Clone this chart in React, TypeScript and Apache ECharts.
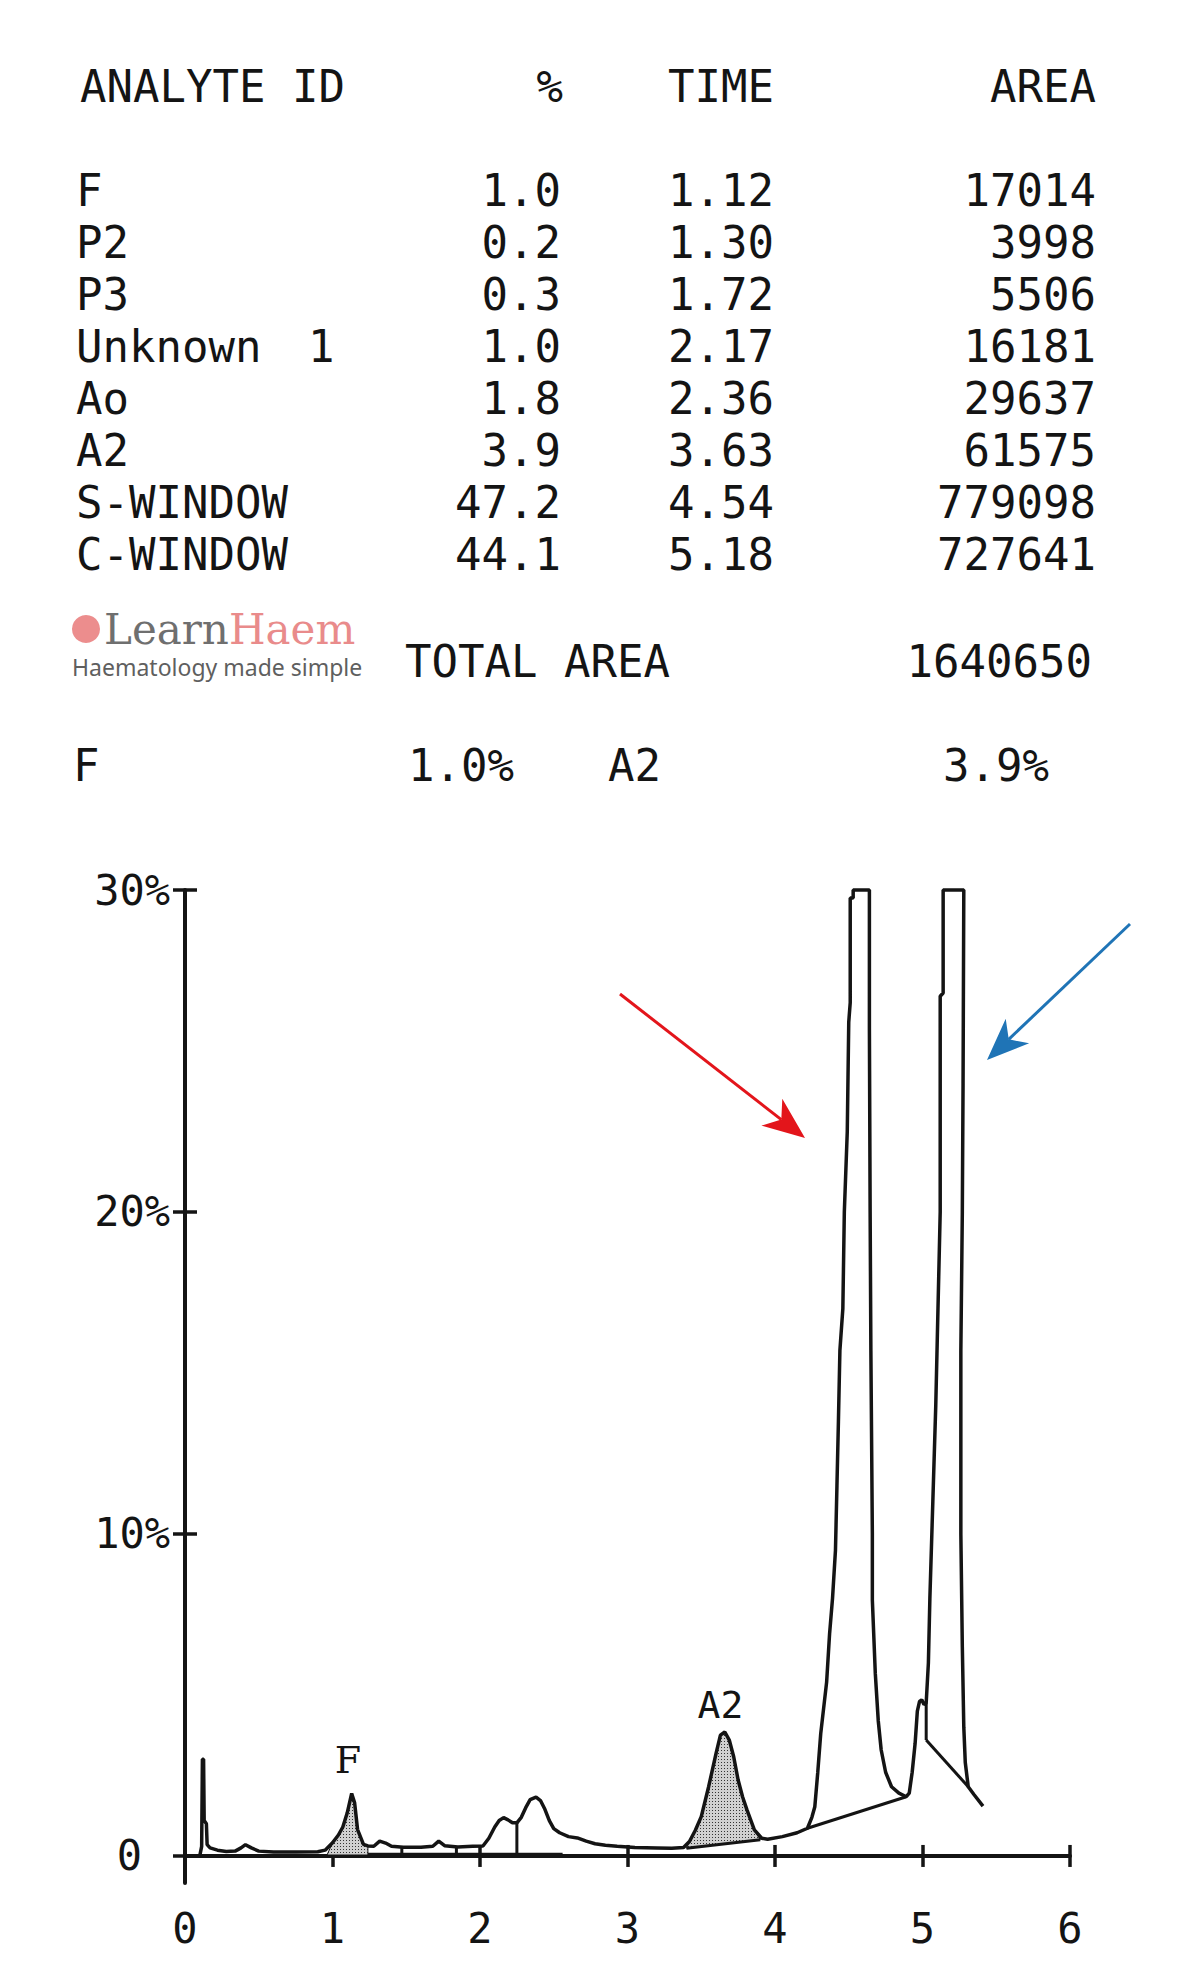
import React, { useEffect, useRef } from 'react';
import * as echarts from 'echarts';

// ---------- table data ----------
const analyteIds = ['F', 'P2', 'P3', 'Unknown', 'Ao', 'A2', 'S-WINDOW', 'C-WINDOW'];
const analyteSuffix = ['', '', '', '1', '', '', '', ''];
const analytePercent = ['1.0', '0.2', '0.3', '1.0', '1.8', '3.9', '47.2', '44.1'];
const analyteTime = ['1.12', '1.30', '1.72', '2.17', '2.36', '3.63', '4.54', '5.18'];
const analyteArea = ['17014', '3998', '5506', '16181', '29637', '61575', '779098', '727641'];
const totalAreaLabel = 'TOTAL AREA';
const totalAreaValue = '1640650';
const summaryItems = ['F', '1.0%', 'A2', '3.9%'];

// ---------- chromatogram data (time in min, % of scale) ----------
const traceTime = [
  0.00, 0.10, 0.113, 0.118, 0.126, 0.130, 0.145, 0.150, 0.17, 0.22, 0.28, 0.34, 0.38, 0.41, 0.45, 0.50, 0.60, 0.75, 0.90, 0.95,
  1.00, 1.04, 1.07, 1.10, 1.13, 1.15, 1.17, 1.21, 1.24, 1.28, 1.32, 1.36, 1.40, 1.48, 1.60, 1.68, 1.72, 1.76, 1.85, 1.95,
  2.02, 2.06, 2.10, 2.13, 2.16, 2.19, 2.22, 2.25, 2.28, 2.31, 2.34, 2.38, 2.41, 2.44, 2.47, 2.50, 2.54, 2.60, 2.66, 2.72, 2.78, 2.85, 2.93, 3.05, 3.20, 3.30, 3.38,
  3.42, 3.46, 3.50, 3.55, 3.60, 3.63, 3.66, 3.69, 3.72, 3.75, 3.78, 3.81, 3.86, 3.91, 3.95,
  4.05, 4.15, 4.22, 4.25, 4.27, 4.29, 4.31, 4.33, 4.35, 4.37, 4.39, 4.41, 4.42, 4.43, 4.44, 4.46, 4.47, 4.49, 4.50, 4.51, 4.51, 4.53, 4.53,
  4.64, 4.64, 4.645, 4.65, 4.66, 4.66, 4.68, 4.70, 4.72, 4.75, 4.79, 4.84, 4.89,
  4.91, 4.93, 4.95, 4.965, 4.98, 4.995, 5.01, 5.025, 5.04, 5.05, 5.07, 5.09, 5.10, 5.11, 5.12, 5.12, 5.14, 5.14,
  5.28, 5.275, 5.27, 5.26, 5.26, 5.27, 5.28, 5.29, 5.31, 5.35, 5.41,
];
const tracePct = [
  0.00, 0.00, 0.3, 3.0, 3.0, 1.1, 1.0, 0.35, 0.25, 0.18, 0.14, 0.15, 0.25, 0.35, 0.25, 0.15, 0.12, 0.12, 0.13, 0.18,
  0.41, 0.65, 0.9, 1.34, 1.94, 1.65, 0.82, 0.36, 0.31, 0.3, 0.46, 0.4, 0.3, 0.27, 0.27, 0.3, 0.46, 0.32, 0.28, 0.3,
  0.31, 0.55, 0.9, 1.1, 1.19, 1.12, 1.03, 1.03, 1.2, 1.5, 1.75, 1.83, 1.72, 1.45, 1.1, 0.85, 0.72, 0.6, 0.56, 0.46, 0.38, 0.33, 0.3, 0.26, 0.25, 0.24, 0.26,
  0.45, 0.8, 1.22, 2.15, 3.18, 3.75, 3.85, 3.6, 3.08, 2.36, 1.84, 1.43, 0.81, 0.55, 0.52,
  0.6, 0.72, 0.86, 1.2, 1.53, 2.6, 3.8, 4.6, 5.4, 6.9, 8.0, 9.5, 11.5, 13.5, 15.7, 17.0, 20.0, 22.5, 25.9, 26.5, 29.75, 29.75, 30.0,
  30.0, 25.7, 20.0, 15.7, 10.0, 7.95, 5.67, 4.2, 3.29, 2.6, 2.15, 1.95, 1.84,
  1.95, 2.6, 3.5, 4.5, 4.8, 4.85, 4.7, 4.75, 6.0, 8.0, 11.0, 14.0, 16.0, 18.0, 20.0, 26.7, 26.8, 30.0,
  30.0, 24.0, 20.0, 15.7, 10.0, 6.5, 4.0, 2.9, 2.15, 1.9, 1.55,
];

// integration baselines and drop lines, as [time, %] segments
const integrationBaselines = [
  [[0.58, 0], [1.24, 0]],
  [[1.24, 0.05], [2.56, 0.05]],
  [[1.47, -0.05], [1.47, 0.3]],
  [[1.84, -0.05], [1.84, 0.3]],
  [[2.25, 0.05], [2.25, 1.03]],
  [[3.40, 0.24], [3.90, 0.5]],
  [[4.22, 0.86], [4.89, 1.84]],
  [[5.025, 4.75], [5.025, 3.6]],
  [[5.025, 3.6], [5.31, 2.15]],
];

// shaded (reported) peaks: time range and baseline level at the ends
const shadedFrom = [0.96, 3.40];
const shadedTo = [1.24, 3.90];
const shadedBaseStart = [0, 0.24];
const shadedBaseEnd = [0, 0.5];

const peakLabelNames = ['F', 'A2'];
const peakLabelTime = [1.105, 3.63];
const peakLabelPct = [2.98, 4.69];

const xTickValues = [0, 1, 2, 3, 4, 5, 6];
const yTickValues = [0, 10, 20, 30];
const yTickLabels = ['0', '10%', '20%', '30%'];

const MONO = "'DejaVu Sans Mono', 'Liberation Mono', monospace";
const INK = '#141414';

function text(t: string, x: number, y: number, align: string = 'left', size: number = 44) {
  return {
    type: 'text',
    x,
    y,
    style: {
      text: t,
      fill: INK,
      fontSize: size,
      fontFamily: MONO,
      align,
      verticalAlign: 'middle',
      textAlign: align,
      textVerticalAlign: 'middle',
    },
  };
}

function arrow(x1: number, y1: number, x2: number, y2: number, color: string) {
  const dx = x2 - x1;
  const dy = y2 - y1;
  const len = Math.hypot(dx, dy);
  const ux = dx / len;
  const uy = dy / len;
  const px = -uy;
  const py = ux;
  const L = 42;
  const W = 17;
  const N = 30;
  const bx = x2 - ux * L;
  const by = y2 - uy * L;
  const nx = x2 - ux * N;
  const ny = y2 - uy * N;
  return [
    { type: 'line', shape: { x1, y1, x2: nx, y2: ny }, style: { stroke: color, lineWidth: 3 } },
    {
      type: 'polygon',
      shape: { points: [[x2, y2], [bx + px * W, by + py * W], [nx, ny], [bx - px * W, by - py * W]] },
      style: { fill: color },
    },
  ];
}

export default function App() {
  const ref = useRef<HTMLDivElement>(null);

  useEffect(() => {
    document.body.style.margin = '0';
    const chart = echarts.init(ref.current!, null, { renderer: 'svg' });

    // stipple pattern for shaded peaks
    const cv = document.createElement('canvas');
    cv.width = 3;
    cv.height = 3;
    const ctx = cv.getContext('2d')!;
    ctx.fillStyle = '#d0d0d0';
    ctx.fillRect(0, 0, 3, 3);
    ctx.fillStyle = '#333333';
    ctx.fillRect(1, 1, 1, 1);
    const pattern: any = { image: cv, repeat: 'repeat', imageWidth: 3, imageHeight: 3 };

    const traceData = traceTime.map((t, i) => [t, tracePct[i]]);

    // table graphics
    const rowY0 = 190;
    const rowStep = 52;
    const table: any[] = [
      text('ANALYTE ID', 80, 86),
      text('%', 563, 86, 'right'),
      text('TIME', 668, 86),
      text('AREA', 1096, 86, 'right'),
    ];
    analyteIds.forEach((id, i) => {
      const y = rowY0 + i * rowStep;
      table.push(text(id, 76, y));
      if (analyteSuffix[i]) table.push(text(analyteSuffix[i], 308, y));
      table.push(text(analytePercent[i], 561, y, 'right'));
      table.push(text(analyteTime[i], 668, y));
      table.push(text(analyteArea[i], 1096, y, 'right'));
    });
    table.push(text(totalAreaLabel, 405, 661));
    table.push(text(totalAreaValue, 1092, 661, 'right'));
    table.push(text(summaryItems[0], 73, 765));
    table.push(text(summaryItems[1], 408, 765));
    table.push(text(summaryItems[2], 608, 765));
    table.push(text(summaryItems[3], 943, 765));

    // logo
    const logo: any[] = [
      { type: 'circle', shape: { cx: 86, cy: 629, r: 14 }, style: { fill: '#ec8d8d' } },
      {
        type: 'text',
        x: 104,
        y: 629,
        style: {
          text: '{a|Learn}{b|Haem}',
          verticalAlign: 'middle',
          textVerticalAlign: 'middle',
          rich: {
            a: { fontFamily: "'DejaVu Serif', serif", fontSize: 42, fill: '#6f6f6f', color: '#6f6f6f' },
            b: { fontFamily: "'DejaVu Serif', serif", fontSize: 42, fill: '#e98b8b', color: '#e98b8b' },
          },
        },
      },
      {
        type: 'text',
        x: 72,
        y: 667,
        style: {
          text: 'Haematology made simple',
          fill: '#5f5f5f',
          fontFamily: "'Noto Sans', sans-serif",
          fontSize: 23,
          verticalAlign: 'middle',
          textVerticalAlign: 'middle',
        },
      },
    ];

    const arrows = [...arrow(620, 994, 805, 1138, '#e3151b'), ...arrow(1130, 924, 987, 1060, '#1f74b6')];

    const baseSeries = integrationBaselines.map((seg, i) => ({
      type: 'line',
      name: 'baseline' + i,
      data: seg,
      showSymbol: false,
      symbol: 'none',
      lineStyle: { color: INK, width: 3 },
      z: 4,
      silent: true,
    }));

    const fillSeries = shadedFrom.map((from, k) => ({
      type: 'custom',
      name: 'shade' + k,
      data: [[from, 0]],
      z: 3,
      silent: true,
      renderItem: (params: any, api: any) => {
        const to = shadedTo[k];
        const pts: number[][] = [api.coord([from, shadedBaseStart[k]])];
        traceTime.forEach((t, i) => {
          if (t >= from && t <= to) pts.push(api.coord([t, tracePct[i]]));
        });
        pts.push(api.coord([to, shadedBaseEnd[k]]));
        return { type: 'polygon', shape: { points: pts }, style: { fill: pattern, stroke: INK, lineWidth: 1 } };
      },
    }));

    const axisFont = { fontFamily: MONO, fontSize: 42, color: INK };

    chart.setOption({
      animation: false,
      backgroundColor: '#ffffff',
      grid: { left: 185, right: 130, top: 890, bottom: 102, containLabel: false, outerBoundsMode: 'none' },
      xAxis: [
        {
          type: 'value',
          min: 0,
          max: 6,
          interval: 1,
          axisLine: { show: true, lineStyle: { color: INK, width: 4 } },
          axisTick: { show: true, length: 11, lineStyle: { color: INK, width: 3.5 }, customValues: xTickValues.slice(1) },
          axisLabel: { ...axisFont, margin: 24, customValues: xTickValues },
          splitLine: { show: false },
        },
        {
          type: 'value',
          min: 0,
          max: 6,
          interval: 1,
          position: 'bottom',
          axisLine: { show: false },
          axisTick: { show: true, inside: true, length: 11, lineStyle: { color: INK, width: 3.5 }, customValues: xTickValues.slice(1) },
          axisLabel: { show: false },
          splitLine: { show: false },
        },
      ],
      yAxis: [
        {
          type: 'value',
          min: -0.84,
          max: 30,
          axisLine: { show: true, lineStyle: { color: INK, width: 4 } },
          axisTick: { show: true, length: 12, lineStyle: { color: INK, width: 3.5 }, customValues: yTickValues },
          axisLabel: {
            ...axisFont,
            margin: 15,
            customValues: yTickValues,
            formatter: (v: number) => {
              const idx = yTickValues.indexOf(Math.round(v));
              const lab = idx >= 0 ? yTickLabels[idx] : '';
              return v === 0 ? '{z|' + lab + '}' : lab;
            },
            rich: { z: { fontFamily: MONO, fontSize: 42, color: INK, padding: [0, 28, 0, 0] } },
          },
          splitLine: { show: false },
        },
        {
          type: 'value',
          min: -0.84,
          max: 30,
          position: 'left',
          axisLine: { show: false },
          axisTick: { show: true, inside: true, length: 12, lineStyle: { color: INK, width: 3.5 }, customValues: yTickValues.slice(1) },
          axisLabel: { show: false },
          splitLine: { show: false },
        },
      ],
      series: [
        ...fillSeries,
        ...baseSeries,
        {
          type: 'line',
          name: 'Absorbance',
          data: traceData,
          showSymbol: false,
          symbol: 'none',
          lineStyle: { color: INK, width: 3.5 },
          z: 5,
          clip: false,
          silent: true,
        },
        {
          type: 'scatter',
          name: 'labels',
          data: peakLabelNames.map((n, i) => [peakLabelTime[i], peakLabelPct[i], n]),
          symbolSize: 1,
          itemStyle: { color: 'rgba(0,0,0,0)' },
          label: {
            show: true,
            position: 'inside',
            formatter: (p: any) => (p.data[2] === 'F' ? '{s|F}' : '{m|' + p.data[2] + '}'),
            rich: {
              s: { fontFamily: "'DejaVu Serif', serif", fontSize: 38, color: INK, textBorderWidth: 0, opacity: 1 },
              m: { fontFamily: MONO, fontSize: 38, color: INK, textBorderWidth: 0, opacity: 1 },
            },
            color: INK,
            textBorderWidth: 0,
            textBorderColor: 'transparent',
            opacity: 1,
          },
          z: 6,
          silent: true,
        },
      ],
      graphic: [...table, ...logo, ...arrows],
    });

    return () => chart.dispose();
  }, []);

  return <div ref={ref} style={{ width: 1200, height: 1985 }} />;
}
